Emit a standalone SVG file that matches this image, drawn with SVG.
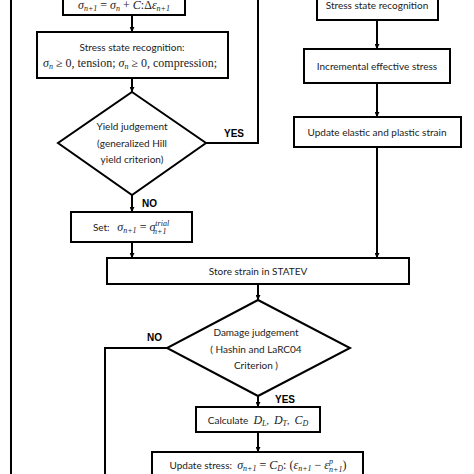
<svg xmlns="http://www.w3.org/2000/svg" width="474" height="474" viewBox="0 0 474 474">
<style>
.box{fill:#fff;stroke:#000;stroke-width:2}
.ln{fill:none;stroke:#000;stroke-width:2}
.t{font-family:Lato,"Open Sans","Liberation Sans",sans-serif;font-size:10px;fill:#222;text-anchor:middle}
.m{font-family:"Liberation Serif",serif;font-style:italic;font-size:12px}
.r{font-family:"Liberation Serif",serif;font-size:12px}
.s{font-size:8px}
.b{font-family:"Liberation Sans",Arial,sans-serif;font-weight:bold;font-size:10px;fill:#000}
</style>
<defs>
<marker id="ah" viewBox="0 0 10 10" refX="10" refY="5" markerWidth="5" markerHeight="5" orient="auto" markerUnits="userSpaceOnUse">
<path d="M0,0 L10,5 L0,10 z" fill="#000"/>
</marker>
</defs>
<rect width="474" height="474" fill="#fff"/>
<g id="connectors">
<line class="ln" x1="11" y1="0" x2="11" y2="474"/>
<line class="ln" x1="132" y1="15" x2="132" y2="32" marker-end="url(#ah)"/>
<line class="ln" x1="132" y1="78" x2="132" y2="92" marker-end="url(#ah)"/>
<polyline class="ln" points="206,143 258,143 258,0"/>
<line class="ln" x1="132" y1="195" x2="132" y2="212" marker-end="url(#ah)"/>
<line class="ln" x1="132" y1="242" x2="132" y2="258" marker-end="url(#ah)"/>
<line class="ln" x1="377" y1="20" x2="377" y2="49" marker-end="url(#ah)"/>
<line class="ln" x1="377" y1="83" x2="377" y2="117" marker-end="url(#ah)"/>
<line class="ln" x1="377" y1="147" x2="377" y2="258" marker-end="url(#ah)"/>
<line class="ln" x1="258" y1="284" x2="258" y2="300" marker-end="url(#ah)"/>
<polyline class="ln" points="167,348 105,348 105,474"/>
<line class="ln" x1="258" y1="396" x2="258" y2="407" marker-end="url(#ah)"/>
<line class="ln" x1="258" y1="432" x2="258" y2="452" marker-end="url(#ah)"/>
<text class="b" x="224" y="137">YES</text>
<text class="b" x="142" y="207">NO</text>
<text class="b" x="147" y="341">NO</text>
<text class="b" x="275" y="403">YES</text>
</g>
<g id="trial">
<rect class="box" x="63" y="-5" width="122" height="20"/>
<text class="t" x="124" y="9"><tspan class="m">σ</tspan><tspan class="m s" dy="2">n+1</tspan><tspan class="r" dy="-2"> = </tspan><tspan class="m">σ</tspan><tspan class="m s" dy="2">n</tspan><tspan class="r" dy="-2"> + </tspan><tspan class="m">C</tspan><tspan class="r">:Δ</tspan><tspan class="m">ε</tspan><tspan class="m s" dy="2">n+1</tspan></text>
</g>
<g id="recog1">
<rect class="box" x="37" y="32" width="191" height="46"/>
<text class="t" x="132" y="51">Stress state recognition:</text>
<text class="t" x="130" y="67"><tspan class="m">σ</tspan><tspan class="m s" dy="2">n</tspan><tspan class="r" dy="-2"> ≥ 0, tension; </tspan><tspan class="m">σ</tspan><tspan class="m s" dy="2">n</tspan><tspan class="r" dy="-2"> ≥ 0, compression;</tspan></text>
</g>
<g id="yield">
<polygon class="box" points="132,92 206,143 132,195 58,143"/>
<text class="t" x="132" y="130">Yield judgement</text>
<text class="t" x="132" y="147">(generalized Hill</text>
<text class="t" x="132" y="163">yield criterion)</text>
</g>
<g id="set">
<rect class="box" x="71" y="212" width="121" height="30"/>
<text class="t" x="131" y="231" xml:space="preserve">Set:   <tspan class="m">σ</tspan><tspan class="m s" dy="2">n+1</tspan><tspan class="r" dy="-2"> = </tspan><tspan class="m">σ</tspan><tspan class="m s" dy="-5">trial</tspan><tspan class="m s" dx="-16" dy="8">n+1</tspan></text>
</g>
<g id="recog2">
<rect class="box" x="317" y="-5" width="121" height="25"/>
<text class="t" x="377" y="9">Stress state recognition</text>
</g>
<g id="incr">
<rect class="box" x="304" y="49" width="146" height="34"/>
<text class="t" x="377" y="70">Incremental effective stress</text>
</g>
<g id="update-strain">
<rect class="box" x="294" y="117" width="167" height="30"/>
<text class="t" x="377" y="136">Update elastic and plastic strain</text>
</g>
<g id="store">
<rect class="box" x="107" y="258" width="302" height="26"/>
<text class="t" x="258" y="275">Store strain in STATEV</text>
</g>
<g id="damage">
<polygon class="box" points="258,300 350,348 258,396 167,348"/>
<text class="t" x="256" y="336">Damage judgement</text>
<text class="t" x="256" y="353">( Hashin and LaRC04</text>
<text class="t" x="256" y="369">Criterion )</text>
</g>
<g id="calc">
<rect class="box" x="196" y="407" width="124" height="25"/>
<text class="t" x="258" y="424" xml:space="preserve">Calculate  <tspan class="m">D</tspan><tspan class="m s" dy="2">L</tspan><tspan dy="-2">,  </tspan><tspan class="m">D</tspan><tspan class="m s" dy="2">T</tspan><tspan dy="-2">,  </tspan><tspan class="m">C</tspan><tspan class="m s" dy="2">D</tspan></text>
</g>
<g id="update-stress">
<rect class="box" x="152" y="452" width="211" height="30"/>
<text class="t" x="258" y="469" xml:space="preserve">Update stress:  <tspan class="m">σ</tspan><tspan class="m s" dy="2">n+1</tspan><tspan class="r" dy="-2"> = </tspan><tspan class="m">C</tspan><tspan class="m s" dy="2">D</tspan><tspan class="r" dy="-2">: (</tspan><tspan class="m">ε</tspan><tspan class="m s" dy="2">n+1</tspan><tspan class="r" dy="-2"> − </tspan><tspan class="m">ε</tspan><tspan class="m s" dy="-5">p</tspan><tspan class="m s" dx="-4" dy="8">n+1</tspan><tspan class="r" dy="-3">)</tspan></text>
</g>
</svg>
